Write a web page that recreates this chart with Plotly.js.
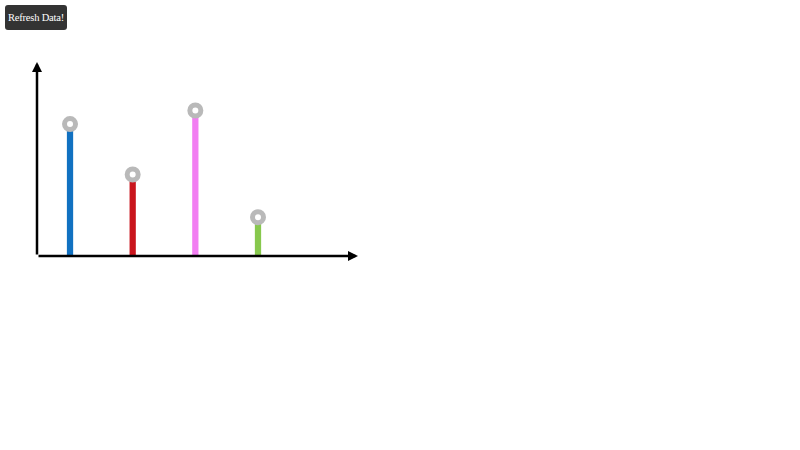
<!DOCTYPE html>
<html>
<head>
<meta charset="utf-8">
<script src="https://cdn.plot.ly/plotly-3.0.1.min.js"></script>
<style>
  html, body { margin: 0; padding: 0; background: #fff; }
  #chart { position: absolute; left: 0; top: 0; width: 800px; height: 450px; }
  #btn {
    position: absolute; left: 5px; top: 5px; z-index: 10;
    background: #333; color: #fff; border: none; border-radius: 3px;
    font-family: "Liberation Serif", "DejaVu Serif", serif; font-size: 10.5px;
    letter-spacing: -0.2px;
    padding: 0; height: 25px; width: 62px; white-space: nowrap; cursor: pointer;
    line-height: 25px; text-align: center; box-sizing: border-box;
  }
</style>
</head>
<body>
<button id="btn">Refresh Data!</button>
<div id="chart"></div>
<script>
const categories = ['A', 'B', 'C', 'D'];
const values = [68, 42, 75, 20];
const colors = ['#1171c1', '#c9151d', '#f27ef2', '#87c84d'];

const stems = {
  type: 'bar', x: categories, y: values, width: 0.1,
  marker: { color: colors, line: { width: 0 } },
  hoverinfo: 'none'
};
const heads = {
  type: 'scatter', mode: 'markers', x: categories, y: values,
  marker: { size: 11, color: '#ffffff', line: { color: '#b9b9b9', width: 5 } },
  cliponaxis: false, hoverinfo: 'none'
};

const xr = [-0.527, 4.596];
const layout = {
  width: 800, height: 450,
  margin: { l: 37, r: 442, t: 62, b: 194 },
  paper_bgcolor: '#fff', plot_bgcolor: '#fff',
  showlegend: false,
  xaxis: { type: 'category', range: xr, showgrid: false, zeroline: false, showline: false, showticklabels: false, ticks: '', fixedrange: true },
  yaxis: { range: [0, 100], showgrid: false, zeroline: false, showline: false, showticklabels: false, ticks: '', fixedrange: true },
  annotations: [
    { xref: 'x', yref: 'y', axref: 'x', ayref: 'y', x: xr[1], y: 0, ax: xr[0], ay: 0,
      text: '', showarrow: true, arrowhead: 2, arrowsize: 0.8, arrowwidth: 2.5, arrowcolor: '#000', standoff: 0, startstandoff: 0 },
    { xref: 'x', yref: 'y', axref: 'x', ayref: 'y', x: xr[0], y: 100, ax: xr[0], ay: 0,
      text: '', showarrow: true, arrowhead: 2, arrowsize: 0.8, arrowwidth: 2.5, arrowcolor: '#000', standoff: 0, startstandoff: 0 }
  ]
};
Plotly.newPlot('chart', [stems, heads], layout, { displayModeBar: false, staticPlot: true });
</script>
</body>
</html>
